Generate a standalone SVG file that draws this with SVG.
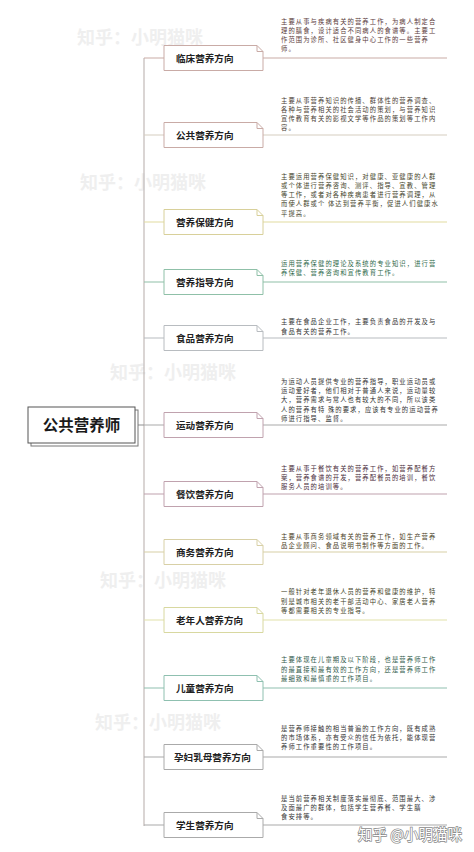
<svg xmlns="http://www.w3.org/2000/svg" width="474" height="852" viewBox="0 0 474 852">
<style>
.wm{font-family:"Noto Sans CJK SC","Noto Sans",sans-serif;font-size:18px;fill:#efefef;font-weight:bold}
.nt{font-family:"Noto Sans CJK SC","Noto Sans",sans-serif;font-size:9.6px;font-weight:bold;fill:#222}
.dt{font-family:"Noto Sans CJK SC","Noto Sans",sans-serif;font-size:6.3px;letter-spacing:1.1px}
.box{fill:#fff;stroke-width:1}
.ln{fill:none;stroke-width:1.1}
</style>
<rect width="474" height="852" fill="#fff"/>
<g id="watermarks">
<text class="wm" x="77" y="44">知乎：小明猫咪</text>
<text class="wm" x="80" y="189">知乎：小明猫咪</text>
<text class="wm" x="110" y="379">知乎：小明猫咪</text>
<text class="wm" x="100" y="587">知乎：小明猫咪</text>
<text class="wm" x="95" y="729">知乎：小明猫咪</text>
</g>
<g id="connectors">
<line class="ln" x1="144" y1="58" x2="144" y2="826" stroke="#bcb2b0"/>
<line class="ln" x1="135" y1="425" x2="144" y2="425" stroke="#9a9a9a"/>
<path class="ln" stroke="#c9aba6" d="M144,58H164M263,58H447"/>
<path class="ln" stroke="#d6cdbf" d="M144,135H164M263,135H447"/>
<path class="ln" stroke="#e2dca0" d="M144,222H164M263,222H447"/>
<path class="ln" stroke="#8fc0a8" d="M144,282H164M263,282H447"/>
<path class="ln" stroke="#b8bcc0" d="M144,338H164M263,338H447"/>
<path class="ln" stroke="#aaaaaa" d="M144,425H164M263,425H447"/>
<path class="ln" stroke="#c0a2ae" d="M144,494H164M263,494H447"/>
<path class="ln" stroke="#d8d0a6" d="M144,552H164M263,552H447"/>
<path class="ln" stroke="#e2e2aa" d="M144,620H164M263,620H447"/>
<path class="ln" stroke="#8fc0b0" d="M144,688H164M263,688H447"/>
<path class="ln" stroke="#aaaaaa" d="M144,757H164M263,757H447"/>
<path class="ln" stroke="#aaaaaa" d="M144,825H164M263,825H447"/>
</g>
<g id="root">
<rect x="31" y="410" width="107" height="36" fill="#fff" stroke="#777"/>
<rect x="28" y="407" width="107" height="36" fill="#fff" stroke="#555"/>
<text x="81.5" y="431" text-anchor="middle" font-family="Noto Sans CJK SC,Noto Sans,sans-serif" font-size="15.5" font-weight="bold" fill="#1a1a1a">公共营养师</text>
</g>
<g id="n1">
<path class="box" stroke="#c9aba6" d="M164,45.5H257L263,51.5V70.5H164Z M257,45.5V51.5H263"/>
<text class="nt" x="176" y="61.5">临床营养方向</text>
<text class="dt" fill="#5a3a3a"><tspan x="281" y="23.7">主要从事与疾病有关的营养工作，为病人制定合</tspan><tspan x="281" y="32.9">理的膳食，设计适合不同病人的食谱等。主要工</tspan><tspan x="281" y="42.1">作范围为诊所、社区健身中心工作的一些营养</tspan><tspan x="281" y="51.3">师。</tspan></text>
</g>
<g id="n2">
<path class="box" stroke="#c9aba6" d="M164,122.5H257L263,128.5V147.5H164Z M257,122.5V128.5H263"/>
<text class="nt" x="176" y="138.5">公共营养方向</text>
<text class="dt" fill="#4a4034"><tspan x="281" y="102.7">主要从事营养知识的传播、群体性的营养调查、</tspan><tspan x="281" y="111.9">各种与营养相关的社会活动的策划，与营养知识</tspan><tspan x="281" y="121.1">宣传教育有关的影视文学等作品的策划等工作内</tspan><tspan x="281" y="130.3">容。</tspan></text>
</g>
<g id="n3">
<path class="box" stroke="#d8d09a" d="M164,209.5H257L263,215.5V234.5H164Z M257,209.5V215.5H263"/>
<text class="nt" x="176" y="225.5">营养保健方向</text>
<text class="dt" fill="#44442a"><tspan x="281" y="178.7">主要运用营养保健知识，对健康、亚健康的人群</tspan><tspan x="281" y="187.9">或个体进行营养咨询、测评、指导、宣教、管理</tspan><tspan x="281" y="197.1">等工作，或者对各种疾病患者进行营养调理，从</tspan><tspan x="281" y="206.3">而使人群或个 体达到营养平衡，促进人们健康水</tspan><tspan x="281" y="215.5">平提高。</tspan></text>
</g>
<g id="n4">
<path class="box" stroke="#8fc0a8" d="M164,269.5H257L263,275.5V294.5H164Z M257,269.5V275.5H263"/>
<text class="nt" x="176" y="285.5">营养指导方向</text>
<text class="dt" fill="#2f6a4a"><tspan x="281" y="266">运用营养保健的理论及系统的专业知识，进行营</tspan><tspan x="281" y="275.2">养保健、营养咨询和宣传教育工作。</tspan></text>
</g>
<g id="n5">
<path class="box" stroke="#b8bcc0" d="M164,325.5H257L263,331.5V350.5H164Z M257,325.5V331.5H263"/>
<text class="nt" x="176" y="341.5">食品营养方向</text>
<text class="dt" fill="#333"><tspan x="281" y="324.4">主要在食品企业工作，主要负责食品的开发及与</tspan><tspan x="281" y="333.6">食品有关的营养工作。</tspan></text>
</g>
<g id="n6">
<path class="box" stroke="#c0a2ae" d="M164,412.5H257L263,418.5V437.5H164Z M257,412.5V418.5H263"/>
<text class="nt" x="176" y="428.5">运动营养方向</text>
<text class="dt" fill="#333"><tspan x="281" y="384">为运动人员提供专业的营养指导，职业运动员或</tspan><tspan x="281" y="393.2">运动爱好者，他们相对于普通人来说，运动量较</tspan><tspan x="281" y="402.4">大，营养需求与常人也有较大的不同，所以该类</tspan><tspan x="281" y="411.6">人的营养有特 殊的要求，应该有专业的运动营养</tspan><tspan x="281" y="420.8">师进行指导、监督。</tspan></text>
</g>
<g id="n7">
<path class="box" stroke="#c0a2ae" d="M164,481.5H257L263,487.5V506.5H164Z M257,481.5V487.5H263"/>
<text class="nt" x="176" y="497.5">餐饮营养方向</text>
<text class="dt" fill="#4a2c3a"><tspan x="281" y="471">主要从事于餐饮有关的营养工作，如营养配餐方</tspan><tspan x="281" y="480.2">案，营养食谱的开发，营养配餐员的培训，餐饮</tspan><tspan x="281" y="489.4">服务人员的培训等。</tspan></text>
</g>
<g id="n8">
<path class="box" stroke="#d8d0a6" d="M164,539.5H257L263,545.5V564.5H164Z M257,539.5V545.5H263"/>
<text class="nt" x="176" y="555.5">商务营养方向</text>
<text class="dt" fill="#4a4024"><tspan x="281" y="538.7">主要从事商务领域有关的营养工作，如生产营养</tspan><tspan x="281" y="547.9">品企业顾问、食品说明书制作等方面的工作。</tspan></text>
</g>
<g id="n9">
<path class="box" stroke="#d8d8a0" d="M164,607.5H257L263,613.5V632.5H164Z M257,607.5V613.5H263"/>
<text class="nt" x="176" y="623.5">老年人营养方向</text>
<text class="dt" fill="#44442a"><tspan x="281" y="594.4">一般针对老年退休人员的营养和健康的维护，特</tspan><tspan x="281" y="603.6">别是城市相关的老干部活动中心、家居老人营养</tspan><tspan x="281" y="612.8">等都需要相关的专业指导。</tspan></text>
</g>
<g id="n10">
<path class="box" stroke="#8fc0b0" d="M164,675.5H257L263,681.5V700.5H164Z M257,675.5V681.5H263"/>
<text class="nt" x="176" y="691.5">儿童营养方向</text>
<text class="dt" fill="#2f5a4a"><tspan x="281" y="662.4">主要体现在儿童期及以下阶段，也是营养师工作</tspan><tspan x="281" y="671.6">的最直接和最有效的工作方向，还是营养师工作</tspan><tspan x="281" y="680.8">最细致和最慎重的工作项目。</tspan></text>
</g>
<g id="n11">
<path class="box" stroke="#aaaaaa" d="M164,744.5H257L263,750.5V769.5H164Z M257,744.5V750.5H263"/>
<text class="nt" x="174" y="760.5">孕妇乳母营养方向</text>
<text class="dt" fill="#333"><tspan x="281" y="730.7">是营养师接触的相当普遍的工作方向，既有成熟</tspan><tspan x="281" y="739.9">的市场体系，亦有受众的信任为依托，能体现营</tspan><tspan x="281" y="749.1">养师工作重要性的工作项目。</tspan></text>
</g>
<g id="n12">
<path class="box" stroke="#aaaaaa" d="M164,812.5H257L263,818.5V837.5H164Z M257,812.5V818.5H263"/>
<text class="nt" x="176" y="828.5">学生营养方向</text>
<text class="dt" fill="#333"><tspan x="281" y="800.7">是当前营养相关制度落实最彻底、范围最大、涉</tspan><tspan x="281" y="809.9">及面最广的群体，包括学生营养餐、学生膳</tspan><tspan x="281" y="819.1">食安排等。</tspan></text>
</g>
<text x="358" y="840" font-family="Noto Sans CJK SC,Noto Sans,sans-serif" font-size="14.5" fill="#fff" stroke="#8a8a8a" stroke-width="1.4" paint-order="stroke">知乎 @小明猫咪</text>
</svg>
